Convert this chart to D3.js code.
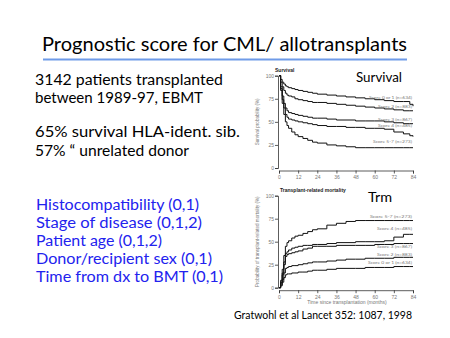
<!DOCTYPE html>
<html><head><meta charset="utf-8">
<script src="https://cdn.jsdelivr.net/npm/d3@7"></script>
<style>
html,body{margin:0;padding:0;background:#fff;}
svg{display:block;}
</style></head>
<body>
<svg id="c" width="450" height="338"></svg>
<script>
// ---- data ----
const months = [0,1,2,3,4,5,6,8,10,12,15,18,21,24,30,36,42,48,54,60,66,72,78,82,84];
const seriesNames = ["Score 0 or 1 (n=634)","Score 2 (n=883)","Score 3 (n=867)","Score 4 (n=485)","Score 5-7 (n=273)"];
const survS01 = [100,96,93,91,89,88,87,86,85,84,83,82,81,80,79,78,77,76,75,74,73,72,72,69,67];
const survS2  = [100,93,88,84,81,79,78,77,75,74,73,72,71,71,70,69,68,67,66,65,64,63,62,62,62];
const survS3  = [100,88,78,70,65,62,60,59,58,57,56,55,54,54,53,52,52,51,51,51,50,49,48,48,48];
const survS4  = [100,86,74,65,58,55,53,52,51,50,49,48,47,46,45,45,44,44,43,43,42,39,37,35,34];
const survS57 = [100,84,70,58,50,46,43,39,36,34,32,30,28,27,25,24,23,22,22,22,22,22,22,22,22];
const trmS01 = [0,2,6,11,14,15,15,16,16,17,17,18,19,19,20,21,21,21,22,22,22,23,23,23,23];
const trmS2  = [0,3,9,16,21,22,23,24,24,25,26,27,28,28,29,30,31,31,32,32,32,33,33,33,33];
const trmS3  = [0,5,14,25,34,36,37,38,39,40,42,43,45,45,45,46,46,46,46,47,47,48,48,48,48];
const trmS4  = [0,6,16,28,37,39,41,43,44,45,46,46,47,47,48,49,49,50,50,50,51,55,58,58,58];
const trmS57 = [0,8,20,35,45,49,51,54,56,57,59,61,63,64,68,70,72,73,73,73,73,73,73,73,73];
const xTicks = [0,12,24,36,48,60,72,84];
const yTicks = [0,25,50,75,100];
const yTickLabels = ["0","25","50","75","100"];

const svg = d3.select("#c");
const FONT = "Lato, 'Open Sans', sans-serif";

function txt(s, x, y, size, color, len, anchor){
  const t = svg.append("text").attr("x",x).attr("y",y).text(s)
    .attr("font-family",FONT).attr("font-size",size).attr("fill",color);
  if(len){ t.attr("textLength",len).attr("lengthAdjust","spacingAndGlyphs"); }
  if(anchor) t.attr("text-anchor",anchor);
  return t;
}

// Title
txt("Prognostic score for CML/ allotransplants", 42, 51, 20, "#000", 365);
svg.append("line").attr("x1",43).attr("x2",407).attr("y1",59.5).attr("y2",59.5)
  .attr("stroke","#6f9be8").attr("stroke-width",2);

// Left black text
txt("3142 patients transplanted", 35, 85, 15.5, "#000", 188);
txt("between 1989-97, EBMT", 35, 103, 15.5, "#000", 168);
txt("65% survival HLA-ident. sib.", 35, 137, 15.5, "#000", 205);
txt("57% \u201C unrelated donor", 35, 155.5, 15.5, "#000", 154);

// Blue factors
const blue = "#2222ee";
txt("Histocompatibility (0,1)", 36, 209.5, 15.5, blue, 163);
txt("Stage of disease (0,1,2)", 36, 228, 15.5, blue, 166);
txt("Patient age (0,1,2)", 36, 246, 15.5, blue, 126);
txt("Donor/recipient sex (0,1)", 36, 264, 15.5, blue, 176);
txt("Time from dx to BMT (0,1)", 36, 282.3, 15.5, blue, 187);

// Citation
txt("Gratwohl et al Lancet 352: 1087, 1998", 234, 319, 11, "#000", 178);

// ---- panels ----
const x = d3.scaleLinear().domain([0,84]).range([279,413]);

function panel(y0, y100, series, labelPos, smallTitle, bigTitle, bigPos, yLabel, xLabel){
  const y = d3.scaleLinear().domain([0,100]).range([y0,y100]);
  const g = svg.append("g");
  // y axis
  const ya = g.append("g").attr("transform","translate(278,0)")
    .call(d3.axisLeft(y).tickValues(yTicks).tickSize(3).tickFormat((d,i)=>yTickLabels[i]));
  // x axis
  const xa = g.append("g").attr("transform",`translate(0,${y0+2.5})`)
    .call(d3.axisBottom(x).tickValues(xTicks).tickSize(3));
  [ya,xa].forEach(a=>{
    a.select(".domain").attr("stroke","#333").attr("stroke-width",0.8);
    a.selectAll(".tick line").attr("stroke","#333").attr("stroke-width",0.8);
    a.selectAll("text").attr("font-family","Arial, sans-serif").attr("font-size",5).attr("fill","#777");
  });
  ya.selectAll("text").attr("x",-4);
  xa.selectAll("text").attr("y",5);
  // curves
  const line = d3.line().x((d,i)=>x(months[i])).y(d=>y(d)).curve(d3.curveStepAfter);
  series.forEach((s,k)=>{
    g.append("path").datum(s).attr("d",line).attr("fill","none")
      .attr("stroke","#111").attr("stroke-width",1);
    txt(seriesNames[k], labelPos[k][0], labelPos[k][1], 4.2, "#777", 412-labelPos[k][0]);
  });
  // small title
  svg.append("text").attr("x",smallTitle[1]).attr("y",smallTitle[2]).text(smallTitle[0])
    .attr("font-family","Arial, sans-serif").attr("font-size",5).attr("font-weight","bold").attr("fill","#222");
  txt(bigTitle, bigPos[0], bigPos[1], 14, "#000", bigPos[2]);
  // y label
  svg.append("text").attr("transform",`translate(259,${(y0+y100)/2}) rotate(-90)`)
    .attr("text-anchor","middle").text(yLabel)
    .attr("font-family","Arial, sans-serif").attr("font-size",4.6).attr("fill","#777");
  if(xLabel){
    svg.append("text").attr("x",347).attr("y",y0+16.5).attr("text-anchor","middle").text(xLabel)
      .attr("font-family","Arial, sans-serif").attr("font-size",5).attr("fill","#777");
  }
}

panel(168, 75.7, [survS01,survS2,survS3,survS4,survS57],
  [[369,99],[378,108],[378,121],[378,127],[373,143]],
  ["Survival",275,72], "Survival", [356,81.5,46], "Survival probability (%)", null);

panel(287.7, 195.7, [trmS01,trmS2,trmS3,trmS4,trmS57],
  [[368,263.7],[377,256],[377,248],[377,230],[370,217.7]],
  ["Transplant-related mortality",280,192], "Trm", [368,201.5,24],
  "Probability of transplant-related mortality (%)", "Time since transplantation (months)");
</script>
</body></html>
